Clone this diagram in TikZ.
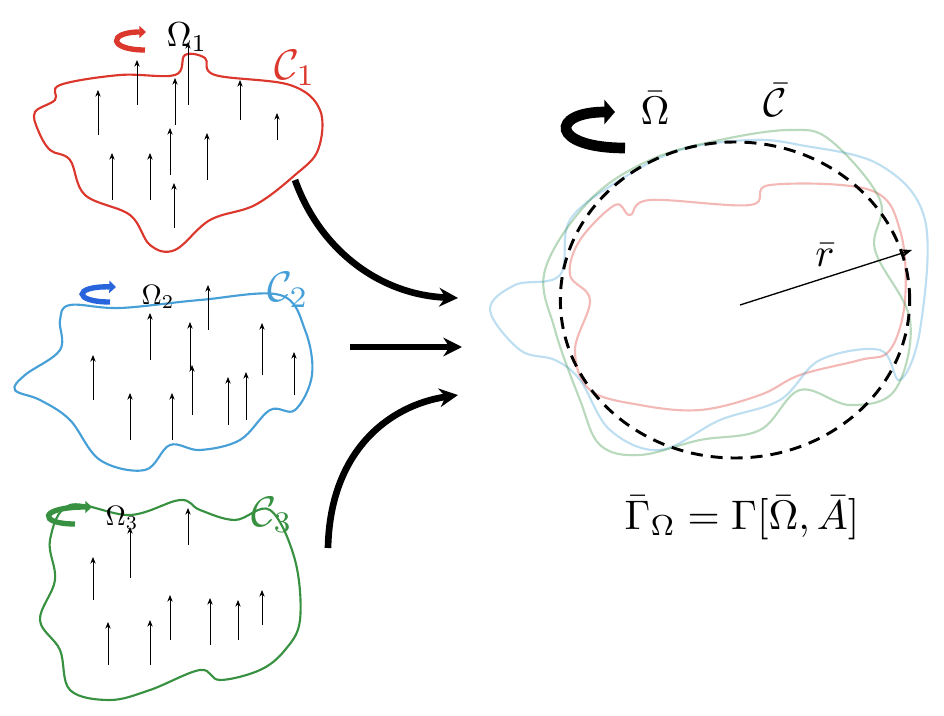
\documentclass[tikz,border=0pt]{standalone}
\usetikzlibrary{arrows.meta,shapes.geometric}
\definecolor{cr}{RGB}{220,55,45}
\definecolor{cb}{RGB}{40,100,220}
\definecolor{cbl}{RGB}{70,160,215}
\definecolor{cg}{RGB}{55,145,65}
\newcommand{\sz}[2]{\scalebox{#1}{#2}}
\begin{document}
\begin{tikzpicture}[x=0.75pt,y=-0.75pt,
  blob/.style={line width=1.6pt},
  fblob/.style={line width=1.6pt,opacity=0.35},
  vec/.style={-{Stealth[length=5pt,width=4pt]},line width=0.6pt},
  big/.style={-{Stealth[length=14pt,width=14pt]},line width=5pt},
  rot/.style={line width=4pt,-{Triangle[length=5pt,width=9pt]}}]
\useasboundingbox (0,0) rectangle (944,716);
% blobs
\draw[blob,cr] plot[smooth cycle,tension=0.6] coordinates{(60,85)(120,75)(175,75)(185,55)(205,58)(215,75)(290,85)(320,110)(318,150)(295,175)(255,205)(210,220)(175,250)(150,245)(130,215)(85,195)(70,160)(50,150)(38,130)(35,112)(55,100)};
\draw[blob,cbl] plot[smooth cycle,tension=0.6] coordinates{(60,320)(70,305)(120,308)(200,300)(280,295)(305,330)(312,375)(295,410)(270,410)(240,440)(200,450)(170,445)(145,470)(100,460)(70,420)(40,400)(15,390)(25,375)(60,350)};
\draw[blob,cg] plot[smooth cycle,tension=0.6] coordinates{(70,505)(130,515)(180,500)(200,510)(235,520)(270,510)(295,560)(300,620)(285,650)(260,670)(220,680)(200,670)(150,690)(110,700)(70,690)(60,650)(40,620)(55,580)(50,540)};
% vectors
\foreach \x/\a/\b in {98/135/90,137/105/60,175/125/78,188/105/42,240/120/80,277/140/113,112/200/153,150/200/153,170/175/128,207/180/133,174/228/183,
 93/400/355,150/360/313,190/370/322,208/330/285,262/375/323,294/395/352,130/440/393,172/440/393,192/415/365,228/425/377,246/420/372,
 93/600/557,130/578/527,188/545/508,108/665/622,150/665/620,170/640/595,210/645/598,238/640/600,262/625/590}
  \draw[vec] (\x,\a) -- (\x,\b);
% rotation icons
\draw[rot,cr] (145,50) .. controls (108,50) and (108,32) .. (146,32);
\node (o1) at (187,37) {\sz{2.6}{$\Omega_1$}};
\draw[rot,cb] (110,302) .. controls (73,302) and (73,286) .. (116,287);
\node (o2) at (158,297) {\sz{2.1}{$\Omega_2$}};
\draw[rot,cg] (75,524) .. controls (38,524) and (38,507) .. (92,507);
\node (o3) at (122,518) {\sz{2.1}{$\Omega_3$}};
\draw[line width=8pt,-{Triangle[length=8pt,width=18pt]}] (625,148) .. controls (550,148) and (550,112) .. (615,112);
\node (ob) at (655,108) {\sz{3}{$\bar\Omega$}};
\node[cr] (c1) at (295,68) {\sz{3.2}{$\mathcal{C}_1$}};
\node[cbl] (c2) at (288,290) {\sz{3.2}{$\mathcal{C}_2$}};
\node[cg] (c3) at (272,515) {\sz{3.2}{$\mathcal{C}_3$}};
% big arrows
\coordinate (s1) at (295,180); \coordinate (e1) at (458,298);
\coordinate (s2) at (350,347); \coordinate (e2) at (462,347);
\coordinate (s3) at (328,548); \coordinate (e3) at (458,395);
\draw[big] (s1) .. controls (320,250) and (380,295) .. (e1);
\draw[big] (s2) -- (e2);
\draw[big] (s3) .. controls (330,450) and (390,405) .. (e3);
% right faint blobs
\draw[fblob,cr] plot[smooth cycle,tension=0.6] coordinates{(580,240)(615,205)(630,215)(650,200)(750,205)(770,185)(870,190)(900,230)(905,300)(890,350)(860,360)(800,375)(760,395)(700,410)(640,405)(590,390)(575,350)(590,300)(570,275)};
\draw[fblob,cbl] plot[smooth cycle,tension=0.6] coordinates{(570,220)(620,180)(680,150)(750,140)(800,145)(880,165)(925,220)(920,330)(900,380)(880,350)(820,360)(780,400)(720,420)(660,450)(610,430)(580,380)(555,360)(520,350)(490,310)(515,285)(560,275)};
\draw[fblob,cg] plot[smooth cycle,tension=0.6] coordinates{(590,200)(650,160)(720,140)(790,130)(830,140)(880,200)(875,250)(910,320)(895,390)(850,405)(800,390)(760,430)(700,440)(640,455)(600,445)(580,400)(555,330)(545,270)};
% dashed circle
\node[draw,line width=2.2pt,dash pattern=on 9pt off 6pt,ellipse,minimum width=262pt,minimum height=237pt,inner sep=0] (circ) at (735,300) {};
\coordinate (ctr) at (740,305);
\coordinate (rim) at (912,250);
\draw[-{Stealth[length=8pt,width=6pt]},line width=1pt] (ctr) -- (rim);
\node (rl) at (825,255) {\sz{3}{$\bar r$}};
\node (cbar) at (775,100) {\sz{3}{$\bar{\mathcal{C}}$}};
\node (gam) at (742,518) {\sz{3.1}{$\bar\Gamma_\Omega=\Gamma[\bar\Omega,\bar A]$}};
\end{tikzpicture}
\end{document}
